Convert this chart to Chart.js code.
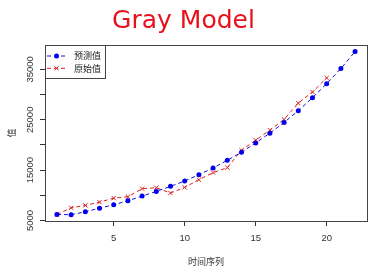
<!DOCTYPE html>
<html lang="zh">
<head>
  <meta charset="UTF-8" />
  <title>Gray Model</title>
  <script src="https://cdn.jsdelivr.net/npm/chart.js"></script>
  <style>
    body {
      margin: 0;
      background: #fff;
    }

    canvas {
      display: block;
    }
  </style>
</head>
<body>

  <canvas id="gmChart" width="390" height="278"></canvas>

  <script>
    // time index 1..22, original data only goes up to 20
    const timeIndex = [1, 2, 3, 4, 5, 6, 7, 8, 9, 10, 11, 12, 13, 14, 15, 16, 17, 18, 19, 20, 21, 22];
    const predicted = [6200, 6150, 6730, 7450, 8130, 8920, 9850, 10780, 11780, 12840, 14100,
                       15430, 16960, 18550, 20410, 22340, 24470, 26790, 29380, 32170, 35160, 38550];
    const original = [6200, 7530, 8000, 8650, 9450, 9720, 11320, 11520, 10450, 11580, 13110,
                      14510, 15500, 18950, 20950, 22940, 25070, 28320, 30510, 33300];
    const seriesNames = ['预测值', '原始值'];
    const xTicks = [5, 10, 15, 20];
    const yTicks = [5000, 10000, 15000, 20000, 25000, 30000, 35000];
    const yTickLabels = ['5000', '15000', '25000', '35000'];

    const axisColor = '#333';
    const numFont = 'Liberation Sans, Arial, sans-serif';
    const cjkFont = '"Noto Sans CJK SC", sans-serif';

    const toPoints = values => values.map((v, i) => ({ x: timeIndex[i], y: v }));

    // frame, rotated y labels and the boxed legend (R-style)
    const rStyle = {
      id: 'rStyle',
      afterDraw(chart) {
        const { ctx, chartArea: a, scales } = chart;
        ctx.save();

        ctx.strokeStyle = '#444';
        ctx.lineWidth = 1;
        ctx.strokeRect(Math.round(a.left) + 0.5, Math.round(a.top) + 0.5,
                       Math.round(a.right - a.left), Math.round(a.bottom - a.top));

        ctx.fillStyle = axisColor;
        ctx.font = '9.5px ' + numFont;
        ctx.textAlign = 'center';
        ctx.textBaseline = 'middle';
        yTickLabels.forEach(label => {
          const y = scales.y.getPixelForValue(Number(label));
          ctx.save();
          ctx.translate(30.5, y);
          ctx.rotate(-Math.PI / 2);
          ctx.fillText(label, 0, 0);
          ctx.restore();
        });

        // legend box
        const lx = Math.round(a.left) + 0.5, ly = Math.round(a.top) + 0.5;
        ctx.strokeStyle = '#444';
        ctx.strokeRect(lx, ly, 60, 33);
        chart.data.datasets.forEach((ds, i) => {
          const y = 56 + i * 12.3;
          ctx.save();
          ctx.strokeStyle = ds.borderColor;
          ctx.fillStyle = ds.backgroundColor;
          ctx.lineWidth = 1;
          ctx.setLineDash(ds.borderDash);
          ctx.beginPath();
          ctx.moveTo(47, y);
          ctx.lineTo(66, y);
          ctx.stroke();
          ctx.setLineDash([]);
          Chart.helpers.drawPoint(ctx, {
            pointStyle: ds.pointStyle,
            radius: ds.pointRadius,
            borderWidth: ds.pointBorderWidth
          }, 56.5, y);
          ctx.restore();
          ctx.fillStyle = '#222';
          ctx.font = '9px ' + cjkFont;
          ctx.textAlign = 'left';
          ctx.fillText(ds.label, 74, y);
        });

        ctx.restore();
      }
    };

    const ctx = document.getElementById('gmChart').getContext('2d');

    new Chart(ctx, {
      type: 'line',
      data: {
        datasets: [
          {
            label: seriesNames[0],
            data: toPoints(predicted),
            borderColor: '#1010dd',
            backgroundColor: '#0000ee',
            borderWidth: 1,
            borderDash: [4, 3],
            pointStyle: 'circle',
            pointRadius: 2.5,
            pointBorderWidth: 0,
            fill: false,
            tension: 0
          },
          {
            label: seriesNames[1],
            data: toPoints(original),
            borderColor: '#dd2020',
            backgroundColor: '#dd2020',
            borderWidth: 1,
            borderDash: [4, 3],
            pointStyle: 'crossRot',
            pointRadius: 3,
            pointBorderWidth: 1,
            fill: false,
            tension: 0
          }
        ]
      },
      options: {
        responsive: false,
        animation: false,
        layout: { padding: { left: 0, right: 23, top: 0, bottom: 0 } },
        plugins: {
          legend: { display: false },
          tooltip: { enabled: false },
          title: {
            display: true,
            text: 'Gray Model',
            color: '#e8101a',
            font: { family: 'DejaVu Sans', size: 25, weight: 'normal', lineHeight: 1.2 },
            padding: { top: 6, bottom: 9 }
          }
        },
        scales: {
          x: {
            type: 'linear',
            min: 0.16,
            max: 22.84,
            afterBuildTicks: scale => { scale.ticks = xTicks.map(v => ({ value: v })); },
            afterFit: scale => { scale.height = 57; },
            grid: { drawOnChartArea: false, drawTicks: true, tickLength: 5, color: axisColor },
            border: { display: false },
            ticks: {
              color: axisColor,
              padding: 7,
              maxRotation: 0,
              font: { family: numFont, size: 9.5 }
            },
            title: {
              display: true,
              text: '时间序列',
              color: '#333',
              font: { family: cjkFont, size: 9 },
              padding: { top: 0, bottom: 11 }
            }
          },
          y: {
            min: 4906,
            max: 39844,
            afterBuildTicks: scale => { scale.ticks = yTicks.map(v => ({ value: v })); },
            afterFit: scale => { scale.width = 45; },
            grid: { drawOnChartArea: false, drawTicks: true, tickLength: 5, color: axisColor },
            border: { display: false },
            ticks: { display: false },
            title: {
              display: true,
              text: '值',
              color: '#333',
              font: { family: cjkFont, size: 9 },
              padding: { top: 6, bottom: 0 }
            }
          }
        }
      },
      plugins: [rStyle]
    });
  </script>
</body>
</html>
